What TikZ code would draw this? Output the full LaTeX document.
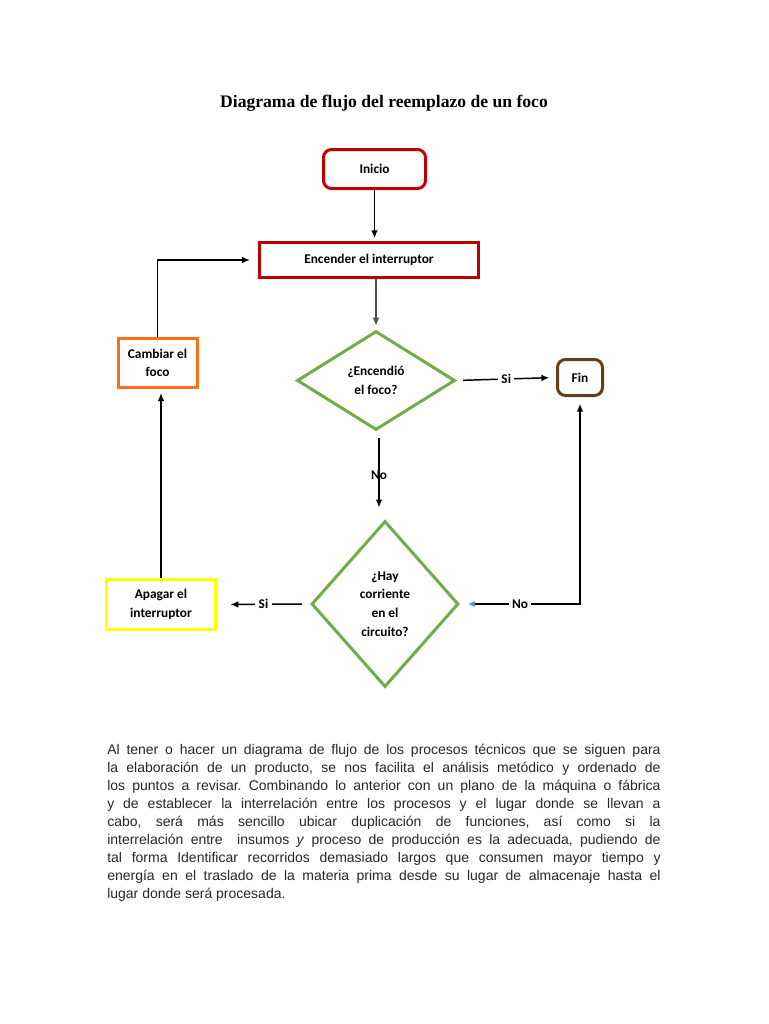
\documentclass[tikz,border=0pt]{standalone}
\usepackage{fontspec}
\setmainfont{Liberation Sans}
\newfontfamily\titlefont{Liberation Serif}
\newfontfamily\boxfont{Carlito}
\usepackage{xcolor}
\definecolor{myred}{RGB}{192, 0, 0}
\definecolor{mygreen}{RGB}{112, 173, 71}
\definecolor{myorange}{RGB}{250, 112, 22}
\definecolor{mybrown}{RGB}{102, 62, 22}
\definecolor{myyellow}{RGB}{255, 255, 0}
\definecolor{myblue}{RGB}{91, 155, 213}
\usepackage{tikz}
\usetikzlibrary{
    shapes.geometric,
    arrows.meta
}
\tikzstyle{box} = [
    rectangle, draw,
    line width=2.25pt,
    text centered,
    align=center,
    inner sep=0pt,
    font=\boxfont\bfseries\fontsize{10}{14}\selectfont
]
\tikzstyle{startbox} = [
    box,
    rounded corners=6pt
]
\tikzstyle{jump} = [
    diamond,
    draw=mygreen,
    line width=2.25pt,
    text centered,
    align=center,
    inner sep=0pt,
    font=\boxfont\bfseries\fontsize{10}{14}\selectfont
]
\tikzstyle{arrow} = [
    line width=1.1pt,
    ->,
    >={Latex[length=6pt,width=5pt]}
]
\tikzstyle{answer} = [
    font=\boxfont\bfseries\fontsize{10}{12}\selectfont,
    fill=white,
    inner sep=2.5pt
]

\begin{document}
\begin{tikzpicture}[x=0.75pt, y=-0.75pt]
\useasboundingbox (0,0) rectangle (768,1024);

\node (title) at (384,103)
    {\titlefont\bfseries\fontsize{13.2}{15}\selectfont Diagrama de flujo del reemplazo de un foco};

\node (inicio) [startbox, draw=myred, minimum width=76.5pt, minimum height=29.25pt] at (374.5,169)
    {Inicio};
\node (encender) [box, draw=myred, minimum width=164.25pt, minimum height=26.25pt] at (369,260)
    {Encender el interruptor};
\node (encendio) [jump, minimum width=118.5pt, minimum height=74.25pt] at (376,380.5)
    {¿Encendió\\el foco?};
\node (fin) [startbox, draw=mybrown, minimum width=33.75pt, minimum height=27pt] at (580,377.5)
    {Fin};
\node (cambiar) [box, draw=myorange, minimum width=59.25pt, minimum height=36.75pt] at (157.5,363)
    {Cambiar el\\foco};
\node (corriente) [jump, minimum width=110.25pt, minimum height=124.5pt] at (385,604)
    {¿Hay\\corriente\\en el\\circuito?};
\node (apagar) [box, draw=myyellow, minimum width=81.75pt, minimum height=37.5pt] at (161,604.5)
    {Apagar el\\interruptor};

\draw [arrow, shorten >=2pt] (inicio.south) -- (inicio.south |- encender.north);
\draw [arrow, draw=black!70, line width=0.8pt, shorten >=3pt] (encender.south -| encendio) -- (encendio.north);
\draw [arrow, shorten <=5pt, shorten >=5pt] (encendio.east) -- node[answer] {Si} (fin.west);
\draw [arrow, shorten <=5pt, shorten >=9pt] (encendio.south -| 379,0) -- node[font=\boxfont\bfseries\fontsize{10}{12}\selectfont] {No} (corriente.north -| 379,0);
\draw [arrow, shorten <=6pt, shorten >=10pt] (corriente.west) -- node[answer] {Si} (apagar.east);
\draw [arrow, shorten >=3pt] (apagar.north) -- (apagar.north |- cambiar.south);

% Vuelta al interruptor
\draw [arrow, shorten >=6pt] (cambiar.north) |- (encender.west);

% Sin corriente: hasta el fin
\draw [line width=1.1pt, {Latex[length=5pt,width=5pt,color=myblue]}-{Latex[length=6pt,width=5pt]}, shorten <=6pt, shorten >=5pt]
    (corriente.east) -- node[answer] {No} (corriente.east -| fin.south) -- (fin.south);

\node (texto) [anchor=north west, text width=415pt, inner sep=0pt, align=justify,
    font=\fontsize{10.5}{13.5}\selectfont\frenchspacing, text=black!85] at (107,744)
    {Al tener o hacer un diagrama de flujo de los procesos técnicos que se siguen para\linebreak
    la elaboración de un producto, se nos facilita el análisis metódico y ordenado de\linebreak
    los puntos a revisar. Combinando lo anterior con un plano de la máquina o fábrica\linebreak
    y de establecer la interrelación entre los procesos y el lugar donde se llevan a\linebreak
    cabo, será más sencillo ubicar duplicación de funciones, así como si la\linebreak
    interrelación entre\ \ insumos \textit{y} proceso de producción es la adecuada, pudiendo de\linebreak
    tal forma Identificar recorridos demasiado largos que consumen mayor tiempo y\linebreak
    energía en el traslado de la materia prima desde su lugar de almacenaje hasta el\linebreak
    lugar donde será procesada.};

\end{tikzpicture}
\end{document}
